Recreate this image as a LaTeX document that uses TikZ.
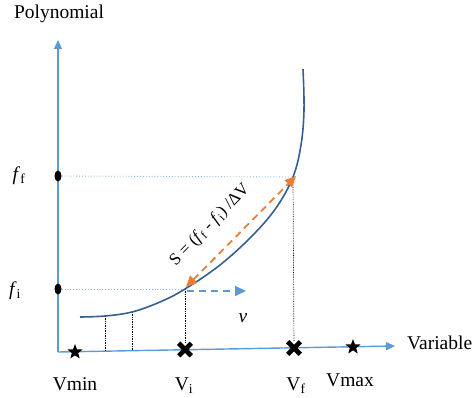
\documentclass[tikz,border=0pt]{standalone}
\usepackage{fontspec}
\setmainfont{Liberation Serif}
\usetikzlibrary{arrows.meta,shapes.geometric,shapes.misc}
\definecolor{axisblue}{RGB}{91,155,213}
\definecolor{curveblue}{RGB}{52,96,148}
\definecolor{slopeorange}{RGB}{237,125,49}
\tikzset{
  axisline/.style={draw=axisblue, line width=1.4pt, -{Triangle[length=9pt,width=8pt]}},
  guide/.style={draw=axisblue!70, dotted, line width=0.9pt},
  drop/.style={draw=black, densely dotted, line width=0.7pt},
  levelmark/.style={ellipse, fill=black, inner sep=0pt, minimum width=7pt, minimum height=11pt},
  endmark/.style={star, star points=5, star point ratio=2.4, fill=black, inner sep=0pt, minimum size=16pt},
  pointmark/.style={cross out, draw=black, line width=4.6pt, inner sep=0pt, minimum size=8pt},
  lbl/.style={font=\fontsize{19.5}{22}\selectfont, inner sep=1pt}
}
\begin{document}
\begin{tikzpicture}[x=1pt, y=-1pt]
\useasboundingbox (0,0) rectangle (474,398);
% axes
\coordinate (origin) at (58,352);
\coordinate (ytip) at (58,40);
\coordinate (xtip) at (395,346);
\draw[axisline] (origin) -- (ytip);
\draw[axisline] (origin) -- (xtip);
\node[lbl] (ylabel) at (59,14) {Polynomial};
\node[lbl, anchor=west] (xlabel) at (406,343) {Variable};

% points on the curve
\coordinate (pi) at (185,289);
\coordinate (pf) at (293,177);
\coordinate (c1) at (105,316);
\coordinate (c2) at (132,312);

% guides to the axes
\node[levelmark] (dotf) at (58,176) {};
\node[levelmark] (doti) at (58,289) {};
\draw[guide] (dotf) -- (pf);
\draw[guide] (doti) -- (pi);

% markers on the variable axis
\node[endmark] (vmin) at (75,352) {};
\node[endmark] (vmax) at (353,347) {};
\node[pointmark] (crossi) at (185,349.5) {};
\node[pointmark] (crossf) at (294,348) {};
\coordinate (a1) at (105,351.2);
\coordinate (a2) at (132,350.7);
\draw[drop] (c1) -- (a1);
\draw[drop] (c2) -- (a2);
\draw[drop] (pi) -- (crossi);
\draw[drop] (pf) -- (crossf);

% curve
\draw[curveblue, line width=1.6pt] plot[smooth, tension=0.6] coordinates {
  (80,317) (105,316) (132,312) (160,302) (185,289) (220,265) (252,236)
  (276,208) (293,177) (301,145) (304,110) (303,69)};

% slope and step
\coordinate (vtip) at (246,291);
\draw[axisblue, line width=1.8pt, dash pattern=on 7pt off 5pt,
  -{Triangle[length=11pt,width=10pt]}] (pi) ++(2,2) -- (vtip);
\draw[slopeorange, line width=1.8pt, dash pattern=on 7pt off 5pt,
  {Triangle[length=11pt,width=10pt]}-{Triangle[length=11pt,width=10pt]}]
  (186,287) -- (296,176);
\node[font=\fontsize{17}{19}\selectfont, rotate=46, inner sep=0pt] (slope) at (210,225)
  {S = (\textit{f}\textsubscript{f} - \textit{f}\textsubscript{i}) /ΔV};
\node[lbl] (vstep) at (243,318) {\textit{v}};

% level labels
\node[lbl] (ff) at (19,176) {\textit{f}\textsubscript{f}};
\node[lbl] (fi) at (15,291) {\textit{f}\textsubscript{i}};

% variable labels
\node[lbl] (vminlbl) at (75,384) {Vmin};
\node[lbl] (vilbl) at (184,386) {V\textsubscript{i}};
\node[lbl] (vflbl) at (296,386) {V\textsubscript{f}};
\node[lbl] (vmaxlbl) at (350,380) {Vmax};
\end{tikzpicture}
\end{document}
